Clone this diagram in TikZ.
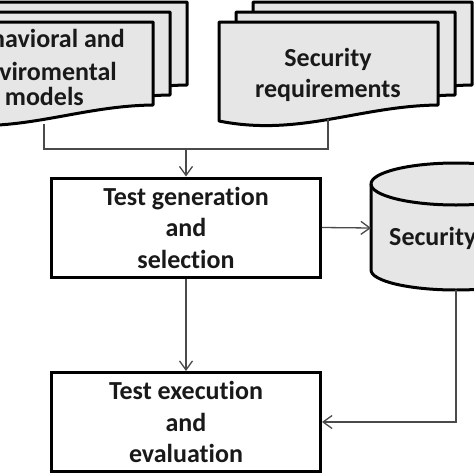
\documentclass[tikz,border=0pt]{standalone}
\usepackage{fontspec}
\setmainfont{Carlito}[Ligatures=NoCommon]
\usepackage{xcolor}
\usetikzlibrary{arrows.meta}
\definecolor{pagegray}{HTML}{E6E6E6}
\definecolor{linegray}{HTML}{4A4A4A}
\tikzset{
	docpage/.style={draw=black, fill=pagegray, line width=3pt, line join=round},
	pics/pagesheet/.style={code={
		\filldraw [docpage] (0,0) -- (219,0) -- (219,83) .. controls (140,84) and (80,115) .. (0,99) -- cycle;
	}},
	doctext/.style={font=\bfseries\fontsize{26}{31.5}\selectfont, text=black!90, inner sep=0pt},
	stepbox/.style={draw=black, fill=white, line width=3pt, minimum width=269pt, minimum height=99pt, align=center, text=black!90, font=\bfseries\fontsize{26}{31.5}\selectfont},
	conn/.style={draw=linegray, line width=1.3pt},
	arr/.style={conn, -{Straight Barb[length=9pt,width=13pt]}}
}
\begin{document}
\begin{tikzpicture}[x=1pt,y=-1pt]
	\useasboundingbox (0,0) rectangle (474,474);
	\clip (0,0) rectangle (474,474);
	\pic at (-32,2) {pagesheet};
	\pic at (-49,12) {pagesheet};
	\pic at (-66,22) {pagesheet};
	\pic at (253,2) {pagesheet};
	\pic at (236,12) {pagesheet};
	\pic at (219,22) {pagesheet};
	\node [doctext, align=right, anchor=north east] (behav) at (125,29.5) {havioral and\\[1.5pt]viromental\makebox[8pt]{}\\[-6.5pt]models\makebox[41pt]{}};
	\node [doctext, align=center, anchor=north] (secreq) at (328,48) {Security\\requirements};
	\coordinate (behav-b) at (44,124);
	\coordinate (secreq-b) at (328,119);
	\coordinate (join) at (186,149);
	\node [stepbox] (gen) at (186,227.5) {Test generation\\and\\selection};
	\node [stepbox] (exec) at (186,422) {Test execution\\and\\evaluation};
	\filldraw [docpage] (371,184) -- (371,270) arc [start angle=180, end angle=0, x radius=85, y radius=20] -- (541,184) arc [start angle=0, end angle=-180, x radius=85, y radius=21] -- cycle;
	\draw [docpage, fill=none] (371,184) arc [start angle=180, end angle=0, x radius=85, y radius=21];
	\node [doctext, anchor=base west] (secdb) at (389,245) {Security};
	\coordinate (secdb-w) at (371,228);
	\coordinate (secdb-s) at (456,290);
	\draw [conn] (behav-b) |- (join) -| (secreq-b);
	\draw [arr] (join) -- (gen.north);
	\draw [arr] (gen.east) -- (secdb-w);
	\draw [arr] (gen.south) -- (exec.north);
	\draw [arr] (secdb-s) |- (exec.east);
\end{tikzpicture}
\end{document}
